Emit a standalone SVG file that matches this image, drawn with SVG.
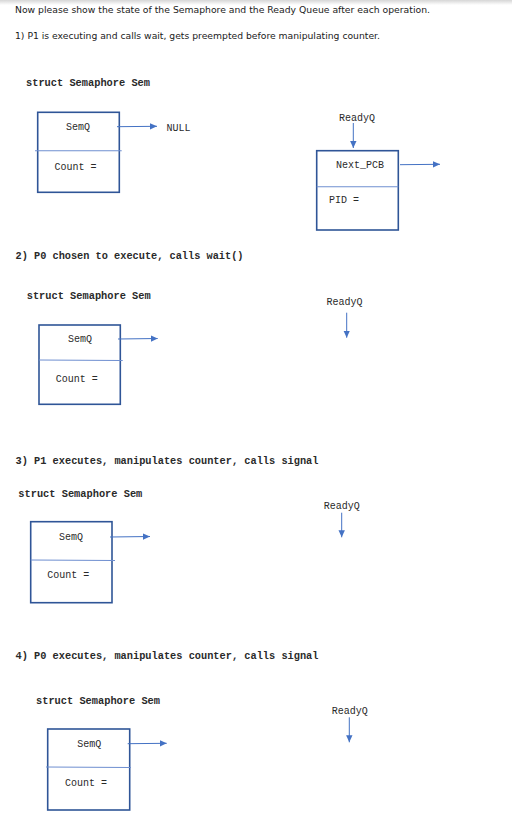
<svg xmlns="http://www.w3.org/2000/svg" width="512" height="825" viewBox="0 0 512 825">
<defs>
<linearGradient id="topShade" x1="0" y1="0" x2="0" y2="1">
<stop offset="0" stop-color="#d6d6d6"/>
<stop offset="1" stop-color="#ffffff"/>
</linearGradient>
<marker id="ah" markerUnits="userSpaceOnUse" markerWidth="8" markerHeight="8" refX="7" refY="4" orient="auto">
<path d="M0,0.8 L7,4 L0,7.2 Z" fill="#4472C4"/>
</marker>
<style>
.sans{font-family:"DejaVu Sans","Liberation Sans",sans-serif;font-size:9px;fill:#1a1a1a}
.mono{font-family:"Liberation Mono","DejaVu Sans Mono",monospace;font-size:10px;fill:#2a2a2a}
.step{font-weight:bold}
.box{fill:none;stroke:#2F5597;stroke-width:1.6}
.div{stroke:#6F8FD0;stroke-width:1.1}
.conn{stroke:#4472C4;stroke-width:1;fill:none;marker-end:url(#ah)}
</style>
</defs>
<rect width="512" height="825" fill="#ffffff"/>
<rect width="512" height="5" fill="url(#topShade)"/>

<g id="headings">
<text class="sans" x="15" y="13" textLength="415" lengthAdjust="spacingAndGlyphs">Now please show the state of the Semaphore and the Ready Queue after each operation.</text>
<text class="sans" x="15" y="38.5" textLength="365" lengthAdjust="spacingAndGlyphs">1) P1 is executing and calls wait, gets preempted before manipulating counter.</text>
<text class="mono step" x="15.5" y="258.5" textLength="228" lengthAdjust="spacingAndGlyphs">2) P0 chosen to execute, calls wait()</text>
<text class="mono step" x="15.5" y="463.5" textLength="303" lengthAdjust="spacingAndGlyphs">3) P1 executes, manipulates counter, calls signal</text>
<text class="mono step" x="15.5" y="658.5" textLength="303" lengthAdjust="spacingAndGlyphs">4) P0 executes, manipulates counter, calls signal</text>
</g>

<!-- Step 1 -->
<g id="sem1">
<text class="mono step" x="26" y="86" textLength="124" lengthAdjust="spacingAndGlyphs">struct Semaphore Sem</text>
<rect class="box" x="37.7" y="112.3" width="81.6" height="80"/>
<line class="div" x1="35" y1="150.7" x2="121.7" y2="150.7"/>
<text class="mono" x="78" y="129.5" text-anchor="middle">SemQ</text>
<text class="mono" x="54.5" y="169.5">Count =</text>
<text class="mono" x="166.5" y="131">NULL</text>
</g>
<g id="readyq1">
<text class="mono" x="357" y="121" text-anchor="middle">ReadyQ</text>
</g>
<g id="pcb1">
<rect class="box" x="316.7" y="150.7" width="81.6" height="79.3"/>
<line class="div" x1="316.7" y1="186.7" x2="398.3" y2="186.7"/>
<text class="mono" x="360" y="168" text-anchor="middle">Next_PCB</text>
<text class="mono" x="329" y="203">PID =</text>
</g>

<!-- Step 2 -->
<g id="sem2">
<text class="mono step" x="26.7" y="298.5" textLength="124" lengthAdjust="spacingAndGlyphs">struct Semaphore Sem</text>
<rect class="box" x="39" y="325" width="81.3" height="79.3"/>
<line class="div" x1="39" y1="360" x2="122.7" y2="360.5"/>
<text class="mono" x="80" y="342" text-anchor="middle">SemQ</text>
<text class="mono" x="55.7" y="381.5">Count =</text>
</g>
<g id="readyq2">
<text class="mono" x="344.5" y="305" text-anchor="middle">ReadyQ</text>
</g>

<!-- Step 3 -->
<g id="sem3">
<text class="mono step" x="18.3" y="496.5" textLength="124" lengthAdjust="spacingAndGlyphs">struct Semaphore Sem</text>
<rect class="box" x="30.7" y="521.7" width="81.3" height="81"/>
<line class="div" x1="30.7" y1="560" x2="115" y2="560.5"/>
<text class="mono" x="71" y="539.5" text-anchor="middle">SemQ</text>
<text class="mono" x="47.3" y="578">Count =</text>
</g>
<g id="readyq3">
<text class="mono" x="341.7" y="509" text-anchor="middle">ReadyQ</text>
</g>

<!-- Step 4 -->
<g id="sem4">
<text class="mono step" x="36" y="703.5" textLength="124" lengthAdjust="spacingAndGlyphs">struct Semaphore Sem</text>
<rect class="box" x="47.7" y="729" width="82" height="81"/>
<line class="div" x1="46" y1="767" x2="131" y2="767.5"/>
<text class="mono" x="89.3" y="746.5" text-anchor="middle">SemQ</text>
<text class="mono" x="65" y="785.5">Count =</text>
</g>
<g id="readyq4">
<text class="mono" x="349.7" y="713.5" text-anchor="middle">ReadyQ</text>
</g>

<g id="connectors">
<line class="conn" x1="117" y1="126.7" x2="157" y2="126.3"/>
<line class="conn" x1="353.3" y1="123" x2="353.3" y2="148"/>
<line class="conn" x1="400" y1="164.7" x2="440" y2="164.3"/>
<line class="conn" x1="118" y1="339" x2="157.7" y2="338.5"/>
<line class="conn" x1="346.7" y1="312.7" x2="346.7" y2="337.7"/>
<line class="conn" x1="110" y1="537" x2="150" y2="536.5"/>
<line class="conn" x1="341.7" y1="512.7" x2="341.7" y2="537.3"/>
<line class="conn" x1="127.7" y1="743.7" x2="166.7" y2="743.3"/>
<line class="conn" x1="349.3" y1="717.3" x2="349.3" y2="742.3"/>
</g>
</svg>
